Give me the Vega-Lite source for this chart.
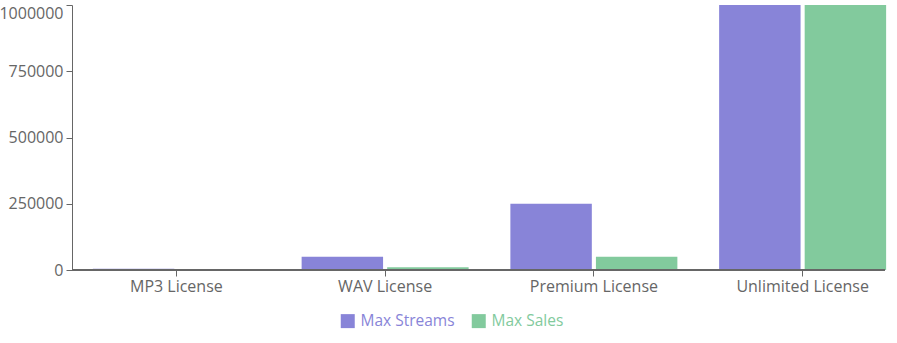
{
  "$schema": "https://vega.github.io/schema/vega-lite/v6.json",
  "width": 813,
  "height": 265,
  "autosize": {"type": "none"},
  "padding": {"left": 72, "top": 5, "right": 12, "bottom": 73},
  "background": "white",
  "config": {"view": {"stroke": null}, "font": "Open Sans"},
  "data": {
    "values": [
      {"license": "MP3 License", "series": "Max Streams", "value": 5000},
      {"license": "MP3 License", "series": "Max Sales", "value": 2000},
      {"license": "WAV License", "series": "Max Streams", "value": 50000},
      {"license": "WAV License", "series": "Max Sales", "value": 10000},
      {"license": "Premium License", "series": "Max Streams", "value": 250000},
      {"license": "Premium License", "series": "Max Sales", "value": 50000},
      {"license": "Unlimited License", "series": "Max Streams", "value": 1000000},
      {"license": "Unlimited License", "series": "Max Sales", "value": 1000000}
    ]
  },
  "layer": [
    {
      "mark": {"type": "bar"},
      "encoding": {
        "x": {
          "field": "license",
          "type": "nominal",
          "sort": ["MP3 License", "WAV License", "Premium License", "Unlimited License"],
          "scale": {"range": [0, 835], "paddingInner": 0.2, "paddingOuter": 0.1},
          "axis": {
            "title": null,
            "domain": false,
            "labelAngle": 0,
            "labelFontSize": 16,
            "labelFont": "Open Sans",
            "labelColor": "#666",
            "tickColor": "#666",
            "tickSize": 6,
            "labelPadding": 2
          }
        },
        "xOffset": {
          "field": "series",
          "type": "nominal",
          "sort": ["Max Streams", "Max Sales"],
          "scale": {"paddingInner": 0.048, "paddingOuter": 0}
        },
        "y": {
          "field": "value",
          "type": "quantitative",
          "scale": {"domain": [0, 1000000], "nice": false},
          "axis": {
            "title": null,
            "grid": false,
            "values": [0, 250000, 500000, 750000, 1000000],
            "format": "d",
            "labelFontSize": 16,
            "labelFont": "Open Sans",
            "labelColor": "#666",
            "tickColor": "#666",
            "domainColor": "#666",
            "tickSize": 6,
            "labelPadding": 3,
            "labelBaseline": {"expr": "datum.value == 1000000 ? 'top' : 'middle'"}
          }
        },
        "color": {
          "field": "series",
          "type": "nominal",
          "sort": ["Max Streams", "Max Sales"],
          "scale": {"domain": ["Max Streams", "Max Sales"], "range": ["#8884d8", "#82ca9d"]},
          "legend": {
            "orient": "none",
            "legendX": 268,
            "legendY": 308,
            "direction": "horizontal",
            "title": null,
            "symbolType": "square",
            "symbolSize": 196,
            "symbolStrokeWidth": 0,
            "symbolOpacity": 1,
            "labelFontSize": 15.5,
            "labelFont": "Open Sans",
            "labelOffset": 5,
            "columnPadding": 16,
            "labelColor": {"expr": "datum.value == 'Max Streams' ? '#8884d8' : '#82ca9d'"}
          }
        }
      }
    },
    {
      "mark": {"type": "rule", "color": "#666"},
      "encoding": {"y": {"datum": 0}}
    }
  ]
}
